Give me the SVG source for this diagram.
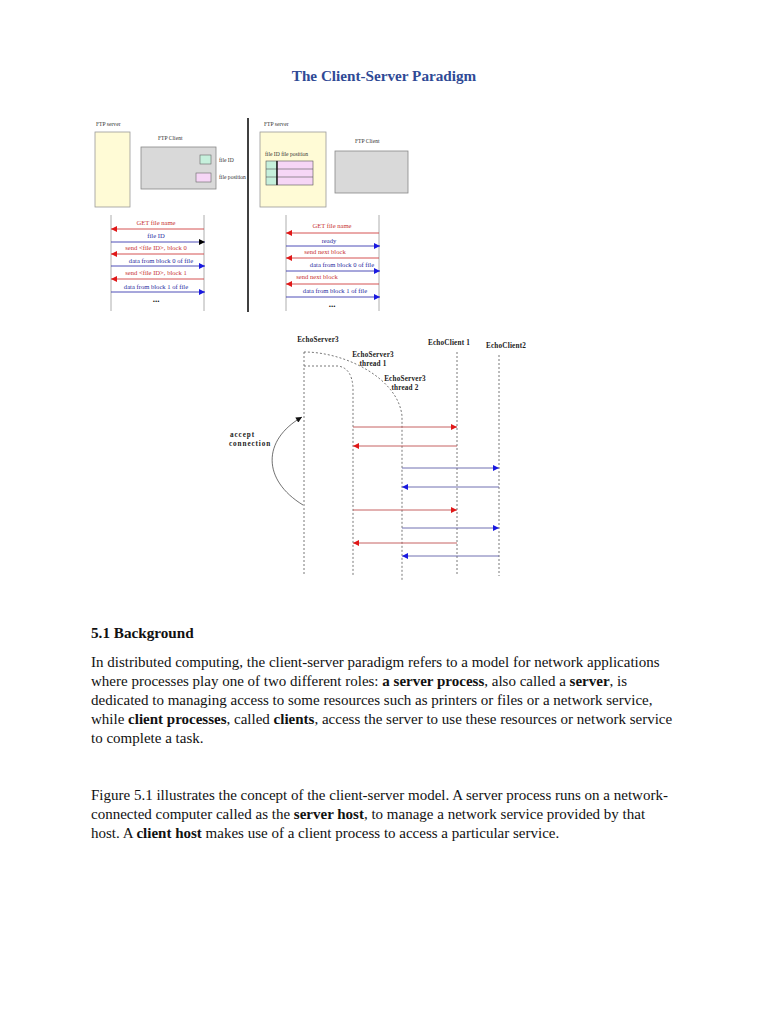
<svg xmlns="http://www.w3.org/2000/svg" width="768" height="1024" viewBox="0 0 768 1024">
<defs>
<style>
.t{font-family:"Liberation Serif","Times New Roman",serif;fill:#111}
.body{font-size:15px}
.sm{font-family:"Liberation Serif",serif;font-size:5.6px;fill:#333}
.dots{font-family:"Liberation Serif",serif;font-size:9px;font-weight:bold;fill:#111}
.echo{font-family:"Liberation Serif",serif;font-size:7.2px;font-weight:bold;fill:#222;letter-spacing:0.2px}
.acc{letter-spacing:0.9px}
.rt{font-family:"Liberation Serif",serif;font-size:6.6px;fill:#c83232}
.bt{font-family:"Liberation Serif",serif;font-size:6.6px;fill:#2a2aa0}
.life{stroke:#999;stroke-width:0.8;fill:none}
.dash{stroke:#555;stroke-width:0.8;stroke-dasharray:2 2;fill:none}
.rl{stroke:#d04040;stroke-width:0.9;fill:none}
.bl{stroke:#3a3ab0;stroke-width:0.9;fill:none}
.rl2{stroke:#c05050;stroke-width:0.9;fill:none}
.bl2{stroke:#6060a8;stroke-width:0.9;fill:none}
</style>
<marker id="rh" viewBox="0 0 10 10" refX="10" refY="5" markerWidth="8" markerHeight="6" markerUnits="userSpaceOnUse" orient="auto"><path d="M0,0 L10,5 L0,10 Z" fill="#e01818"/></marker>
<marker id="bh" viewBox="0 0 10 10" refX="10" refY="5" markerWidth="8" markerHeight="6" markerUnits="userSpaceOnUse" orient="auto"><path d="M0,0 L10,5 L0,10 Z" fill="#1a1ae0"/></marker>
<marker id="kh" viewBox="0 0 10 10" refX="10" refY="5" markerWidth="8" markerHeight="6" markerUnits="userSpaceOnUse" orient="auto"><path d="M0,0 L10,5 L0,10 Z" fill="#000"/></marker>
<marker id="ah" viewBox="0 0 10 10" refX="10" refY="5" markerWidth="7" markerHeight="6" markerUnits="userSpaceOnUse" orient="auto"><path d="M0,0 L10,5 L0,10 Z" fill="#111"/></marker>
</defs>
<rect width="768" height="1024" fill="#fff"/>

<text class="t" x="384" y="81" text-anchor="middle" font-size="15.2" font-weight="bold" style="fill:#2f4a96">The Client-Server Paradigm</text>

<!-- Top-left FTP diagram -->
<g id="ftp-server-left">
<text class="sm" x="96" y="126">FTP server</text>
<rect x="95" y="132" width="35" height="75" fill="#fffbd6" stroke="#999" stroke-width="0.8"/>
</g>
<g id="ftp-client-left">
<text class="sm" x="158" y="140">FTP Client</text>
<rect x="141" y="147" width="75" height="42" fill="#d9d9d9" stroke="#888" stroke-width="0.8"/>
<rect x="200" y="155" width="11" height="9" fill="#c6f0dc" stroke="#666" stroke-width="0.6"/>
<rect x="196" y="173" width="15" height="9" fill="#f6d6f6" stroke="#666" stroke-width="0.6"/>
<text class="sm" x="219" y="162">file ID</text>
<text class="sm" x="219" y="179">file position</text>
</g>
<g id="divider"><line x1="248" y1="118" x2="248" y2="312" stroke="#000" stroke-width="1.5"/></g>

<g id="ftp-server-right">
<text class="sm" x="264" y="126">FTP server</text>
<rect x="260" y="132" width="66" height="75" fill="#fffbd6" stroke="#999" stroke-width="0.8"/>
<text class="sm" x="265" y="156">file ID  file position</text>
<rect x="266" y="161" width="11" height="24" fill="#c6f0dc" stroke="#555" stroke-width="0.6"/>
<rect x="277" y="161" width="36" height="24" fill="#f6d6f6" stroke="#555" stroke-width="0.6"/>
<line x1="266" y1="169" x2="313" y2="169" stroke="#555" stroke-width="0.6"/>
<line x1="266" y1="177" x2="313" y2="177" stroke="#555" stroke-width="0.6"/>
<line x1="277" y1="161" x2="277" y2="185" stroke="#000" stroke-width="1.2"/>
</g>
<g id="ftp-client-right">
<text class="sm" x="355" y="143">FTP Client</text>
<rect x="335" y="151" width="73" height="42" fill="#d9d9d9" stroke="#888" stroke-width="0.8"/>
</g>

<!-- lifelines top diagrams -->
<g id="lifelines-top">
<line class="life" x1="111" y1="215" x2="111" y2="311"/>
<line class="life" x1="204" y1="215" x2="204" y2="311"/>
<line class="life" x1="286" y1="215" x2="286" y2="311"/>
<line class="life" x1="379" y1="215" x2="379" y2="311"/>
</g>

<g id="labels-top">
<text class="rt" x="156" y="225" text-anchor="middle">GET file name</text>
<text class="bt" x="156" y="238" text-anchor="middle">file ID</text>
<text class="rt" x="156" y="250" text-anchor="middle">send &lt;file ID&gt;, block 0</text>
<text class="bt" x="161" y="263" text-anchor="middle">data from block 0 of file</text>
<text class="rt" x="156" y="275" text-anchor="middle">send &lt;file ID&gt;, block 1</text>
<text class="bt" x="156" y="289" text-anchor="middle">data from  block 1 of file</text>
<text class="dots" x="156" y="302" text-anchor="middle">...</text>

<text class="rt" x="332" y="228" text-anchor="middle">GET file name</text>
<text class="bt" x="329" y="243" text-anchor="middle">ready</text>
<text class="rt" x="325" y="254" text-anchor="middle">send next block</text>
<text class="bt" x="342" y="267" text-anchor="middle">data from block 0 of file</text>
<text class="rt" x="317" y="279" text-anchor="middle">send next block</text>
<text class="bt" x="335" y="293" text-anchor="middle">data from block 1  of file</text>
<text class="dots" x="332" y="307" text-anchor="middle">...</text>
</g>

<!-- Echo diagram -->
<g id="echo-server3">
<text class="echo" x="318" y="342" text-anchor="middle">EchoServer3</text>
<path class="dash" d="M304,352 V576"/>
</g>
<g id="echo-thread1">
<text class="echo" x="373" y="357" text-anchor="middle">EchoServer3</text>
<text class="echo" x="373" y="366" text-anchor="middle">thread 1</text>
<path class="dash" d="M304,366 L338,366 Q352,368 353,388 V576"/>
</g>
<g id="echo-thread2">
<text class="echo" x="405" y="381" text-anchor="middle">EchoServer3</text>
<text class="echo" x="405" y="390" text-anchor="middle">thread 2</text>
<path class="dash" d="M304,352 C345,352 398,378 402,416 V580"/>
</g>
<g id="echo-client1">
<text class="echo" x="449" y="345" text-anchor="middle">EchoClient 1</text>
<path class="dash" d="M457,352 V576"/>
</g>
<g id="echo-client2">
<text class="echo" x="506" y="348" text-anchor="middle">EchoClient2</text>
<path class="dash" d="M499,355 V576"/>
</g>
<g id="accept-label">
<text class="echo acc" x="230" y="437">accept</text>
<text class="echo acc" x="229" y="446">connection</text>
</g>

<g id="connectors">
<!-- top-left -->
<line class="rl" x1="204" y1="229" x2="111" y2="229" marker-end="url(#rh)"/>
<line class="bl" x1="111" y1="242" x2="205" y2="242" marker-end="url(#kh)"/>
<line class="rl" x1="204" y1="254" x2="111" y2="254" marker-end="url(#rh)"/>
<line class="bl" x1="111" y1="266" x2="205" y2="266" marker-end="url(#bh)"/>
<line class="rl" x1="204" y1="279" x2="111" y2="279" marker-end="url(#rh)"/>
<line class="bl" x1="111" y1="292" x2="205" y2="292" marker-end="url(#bh)"/>
<!-- top-right -->
<line class="rl" x1="379" y1="233" x2="286" y2="233" marker-end="url(#rh)"/>
<line class="bl" x1="286" y1="246" x2="380" y2="246" marker-end="url(#bh)"/>
<line class="rl" x1="379" y1="258" x2="286" y2="258" marker-end="url(#rh)"/>
<line class="bl" x1="286" y1="271" x2="380" y2="271" marker-end="url(#bh)"/>
<line class="rl" x1="379" y1="284" x2="286" y2="284" marker-end="url(#rh)"/>
<line class="bl" x1="286" y1="297" x2="380" y2="297" marker-end="url(#bh)"/>
<!-- echo -->
<path d="M303,505 C262,480 262,440 302,417" fill="none" stroke="#333" stroke-width="0.7" marker-end="url(#ah)"/>
<line class="rl2" x1="353" y1="427" x2="457" y2="427" marker-end="url(#rh)"/>
<line class="rl2" x1="457" y1="446" x2="353" y2="446" marker-end="url(#rh)"/>
<line class="bl2" x1="402" y1="468" x2="499" y2="468" marker-end="url(#bh)"/>
<line class="bl2" x1="499" y1="487" x2="402" y2="487" marker-end="url(#bh)"/>
<line class="rl2" x1="353" y1="510" x2="457" y2="510" marker-end="url(#rh)"/>
<line class="bl2" x1="402" y1="528" x2="499" y2="528" marker-end="url(#bh)"/>
<line class="rl2" x1="457" y1="543" x2="353" y2="543" marker-end="url(#rh)"/>
<line class="bl2" x1="499" y1="556" x2="402" y2="556" marker-end="url(#bh)"/>
</g>

<!-- Text -->
<text class="t" x="91" y="638" font-size="15.2" font-weight="bold">5.1 Background</text>
<g id="body-text">
<text class="t body" x="91" y="667">In distributed computing, the client-server paradigm refers to a model for network applications</text>
<text class="t body" x="91" y="686">where processes play one of two different roles: <tspan font-weight="bold">a server process</tspan>, also called a <tspan font-weight="bold">server</tspan>, is</text>
<text class="t body" x="91" y="705">dedicated to managing access to some resources such as printers or files or a network service,</text>
<text class="t body" x="91" y="724">while <tspan font-weight="bold">client processes</tspan>, called <tspan font-weight="bold">clients</tspan>, access the server to use these resources or network service</text>
<text class="t body" x="91" y="743">to complete a task.</text>
<text class="t body" x="91" y="800">Figure 5.1 illustrates the concept of the client-server model. A server process runs on a network-</text>
<text class="t body" x="91" y="819">connected computer called as the <tspan font-weight="bold">server host</tspan>, to manage a network service provided by that</text>
<text class="t body" x="91" y="838">host. A <tspan font-weight="bold">client host</tspan> makes use of a client process to access a particular service.</text>
</g>
</svg>
